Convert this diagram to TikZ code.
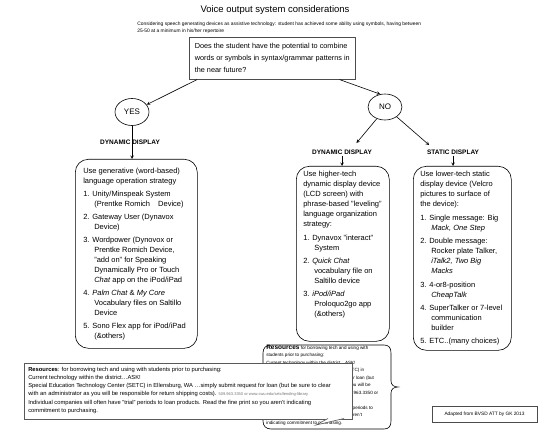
\documentclass[tikz,border=0pt]{standalone}
\usepackage{fontspec}
\setmainfont{Liberation Sans}
\usetikzlibrary{shapes.geometric}

\newcommand{\indnt}{\hspace*{11pt}}

\begin{document}
\begin{tikzpicture}[x=1pt, y=-1pt, >=stealth, line width=0.6pt,
    roundbox/.style 2 args={draw, rounded corners=13pt, minimum width=#1, minimum height=#2, anchor=north west, inner sep=0pt},
    boxtext/.style={font=\fontsize{7.5}{10}\selectfont, align=left, anchor=north west, inner sep=0pt},
    answer/.style={ellipse, draw, font=\fontsize{8}{9}\selectfont, inner sep=0pt},
    kind/.style={font=\bfseries\fontsize{6.5}{7}\selectfont, inner sep=1pt},
    finetext/.style={font=\fontsize{4.6}{7.5}\selectfont, align=left, anchor=north west, inner sep=0pt}]
    \path[fill=white, use as bounding box] (0,0) rectangle (560,433);

    % heading
    \node[font=\fontsize{9.5}{11}\selectfont] (title) at (275,10) {Voice output system considerations};
    \node[finetext, font=\fontsize{4.9}{7}\selectfont] (intro) at (137,22) {Considering speech generating devices as assistive technology: student has achieved some ability using symbols, having between\\25-50 at a minimum in his/her repertoire};

    % question and answers
    \node[draw=black!70, anchor=north west, minimum width=166pt, minimum height=42pt, inner sep=2pt, align=left, font=\fontsize{7.3}{12}\selectfont] (question) at (189,37) {Does the student have the potential to combine\\words or symbols in syntax/grammar patterns in\\the near future?};
    \node[answer, minimum width=34pt, minimum height=27pt] (yes) at (132,112) {YES};
    \node[answer, minimum width=34pt, minimum height=26pt] (no) at (385,107) {NO};
    \draw[->] ([xshift=8pt]question.south west) -- (yes);
    \draw[->] ([xshift=-16pt]question.south east) -- (no.110);

    % display types
    \node[kind] (yesdyn) at (130,142) {DYNAMIC DISPLAY};
    \node[kind] (nodyn) at (342,152) {DYNAMIC DISPLAY};
    \node[kind] (static) at (453,152) {STATIC DISPLAY};
    \draw[->, shorten >=7pt] (no.235) -- ([xshift=10pt]nodyn.north);
    \draw[->, shorten >=5pt] (no.-40) -- ([xshift=-20pt]static.north);

    % strategy boxes
    \node[roundbox={122pt}{189pt}] (dynbox) at (75,159) {};
    \node[roundbox={93pt}{175pt}] (midbox) at (296,166) {};
    \node[roundbox={98pt}{184pt}] (statbox) at (413,166) {};
    \draw[->] (yes) -- (yes |- dynbox.north);
    \draw[->] (nodyn) -- (nodyn |- midbox.north);
    \draw[->] (static) -- (static |- statbox.north);

    \node[boxtext] (dyntext) at ([xshift=8pt, yshift=-8.5pt]dynbox.north west) {%
        Use generative (word-based)\\
        language operation strategy\\[3pt]
        1. Unity/Minspeak System\\
        \indnt(Prentke Romich\hspace{6pt} Device)\\[3pt]
        2. Gateway User (Dynavox\\
        \indnt Device)\\[3pt]
        3. Wordpower (Dynovox or\\
        \indnt Prentke Romich Device,\\
        \indnt"add on" for Speaking\\
        \indnt Dynamically Pro or Touch\\
        \indnt\textit{Chat} app on the iPod/iPad\\[3pt]
        4. \textit{Palm Chat} \& \textit{My Core}\\
        \indnt Vocabulary files on Saltillo\\
        \indnt Device\\[3pt]
        5. Sono Flex app for iPod/iPad\\
        \indnt(\&others)};
    \node[boxtext] (midtext) at ([xshift=7pt, yshift=-4.5pt]midbox.north west) {%
        Use higher-tech\\
        dynamic display device\\
        (LCD screen) with\\
        phrase-based "leveling"\\
        language organization\\
        strategy:\\[4pt]
        1. Dynavox "interact"\\
        \indnt System\\[3pt]
        2. \textit{Quick Chat}\\
        \indnt vocabulary file on\\
        \indnt Saltillo device\\[3pt]
        3. \textit{iPod/iPad}\\
        \indnt Proloquo2go app\\
        \indnt(\&others)};
    \node[boxtext] (stattext) at ([xshift=7pt, yshift=-4.5pt]statbox.north west) {%
        Use lower-tech static\\
        display device (Velcro\\
        pictures to surface of\\
        the device):\\[4pt]
        1. Single message: Big\\
        \indnt\textit{Mack, One Step}\\[3pt]
        2. Double message:\\
        \indnt Rocker plate Talker,\\
        \indnt\textit{iTalk2, Two Big}\\
        \indnt\textit{Macks}\\[4pt]
        3. 4-or8-position\\
        \indnt\textit{CheapTalk}\\[3pt]
        4. SuperTalker or 7-level\\
        \indnt communication\\
        \indnt builder\\[3pt]
        5. ETC..(many choices)};

    % resources callout behind
    \draw[fill=white] (271,345) -- (384,345) .. controls (389,345) and (391,348) .. (391,353)
        -- (391,381) .. controls (391,385) and (394,387) .. (398,387)
        .. controls (394,387) and (391,389) .. (391,393)
        -- (391,421) .. controls (391,426) and (389,429) .. (384,429)
        -- (271,429) .. controls (266,429) and (263,426) .. (263,421)
        -- (263,353) .. controls (263,348) and (266,345) .. (271,345) -- cycle;
    \node[finetext] (backtext) at (266,344.5) {%
        {\bfseries\fontsize{6.5}{7.5}\selectfont Resources} for borrowing tech and using with\\
        students prior to purchasing:\\
        Current technology within the district\ldots ASK!\\
        Special Education Technology Center (SETC) in\\
        Ellensburg, WA \ldots simply submit request for loan (but\\
        be sure to clear with an administrator as you will be\\
        responsible for return shipping costs). 509.963.3350 or\\
        www.cwu.edu/setc/lending-library\\
        Individual companies will often have "trial" periods to\\
        loan products. Read the fine print so you aren't\\
        indicating commitment to purchasing.};

    % resources box in front
    \node[draw=black!65, fill=white, minimum width=328pt, minimum height=56pt, anchor=north west, inner sep=0pt] (resbox) at (24,363) {};
    \draw[draw=black!65, fill=white] (328,418.5) -- (316,425) -- (344,418.5);
    \node[finetext, font=\fontsize{5.8}{8.2}\selectfont] (restext) at ([xshift=4pt, yshift=-3.8pt]resbox.north west) {%
        \textbf{Resources}: for borrowing tech and using with students prior to purchasing:\\
        Current technology within the district\ldots ASK!\\
        Special Education Technology Center (SETC) in Ellensburg, WA \ldots simply submit request for loan (but be sure to clear\\
        with an administrator as you will be responsible for return shipping costs). {\color{black!55}\fontsize{4}{8.2}\selectfont 509.963.3350 or www.cwu.edu/setc/lending-library}\\
        Individual companies will often have "trial" periods to loan products. Read the fine print so you aren't indicating\\
        commitment to purchasing.};

    % credit
    \node[draw=black!70, minimum width=105pt, minimum height=16pt, inner sep=0pt, font=\fontsize{4.8}{6}\selectfont] (credit) at (484.5,414) {Adapted from BVSD ATT by GK 2013};
\end{tikzpicture}
\end{document}
